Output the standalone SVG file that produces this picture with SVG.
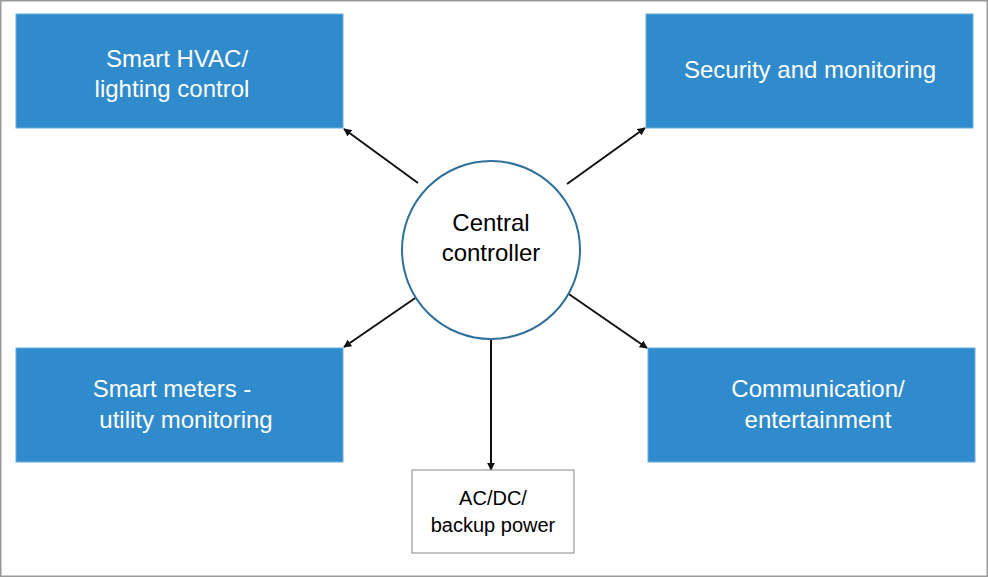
<svg xmlns="http://www.w3.org/2000/svg" width="988" height="577" viewBox="0 0 988 577">
<style>
.b{fill:#2f8bcc;stroke:#6aaedc;stroke-width:1}
.t{font-family:"Liberation Sans",Arial,sans-serif;font-size:24px;fill:#fff;text-anchor:middle}
.k{font-family:"Liberation Sans",Arial,sans-serif;text-anchor:middle;fill:#000}
.c line{stroke:#111;stroke-width:2;marker-end:url(#a)}
</style>
<defs><marker id="a" viewBox="0 0 10 10" refX="9" refY="5" markerWidth="4" markerHeight="4" orient="auto-start-reverse"><path d="M0,0L10,5L0,10z" fill="#111"/></marker></defs>
<rect x="0.5" y="0.5" width="987" height="576" fill="#fff" stroke="#999" stroke-width="2"/>
<g class="c">
<line x1="418" y1="183" x2="344" y2="129"/>
<line x1="567" y1="184" x2="645" y2="128"/>
<line x1="424" y1="292" x2="344" y2="347"/>
<line x1="563" y1="290" x2="647" y2="348"/>
<line x1="491" y1="470" x2="491" y2="322" style="marker-start:url(#a)"/>
</g>
<g id="n1"><rect class="b" x="16" y="14" width="327" height="114"/><text class="t" x="177" y="67">Smart HVAC/</text><text class="t" x="172" y="97">lighting control</text></g>
<g id="n2"><rect class="b" x="646" y="14" width="327" height="114"/><text class="t" x="810" y="78">Security and monitoring</text></g>
<g id="n3"><rect class="b" x="16" y="348" width="327" height="114"/><text class="t" x="172" y="397">Smart meters -</text><text class="t" x="186" y="428">utility monitoring</text></g>
<g id="n4"><rect class="b" x="648" y="348" width="327" height="114"/><text class="t" x="818" y="397">Communication/</text><text class="t" x="818" y="428">entertainment</text></g>
<g id="c"><circle cx="491" cy="250" r="89" fill="#fff" stroke="#2f6f9a" stroke-width="2"/><text class="k" x="491" y="231" font-size="24">Central</text><text class="k" x="491" y="261" font-size="24">controller</text></g>
<g id="p"><rect x="412" y="470" width="162" height="83" fill="#fff" stroke="#888" stroke-width="1"/><text class="k" x="493" y="505" font-size="20">AC/DC/</text><text class="k" x="493" y="532" font-size="20">backup power</text></g>
</svg>
